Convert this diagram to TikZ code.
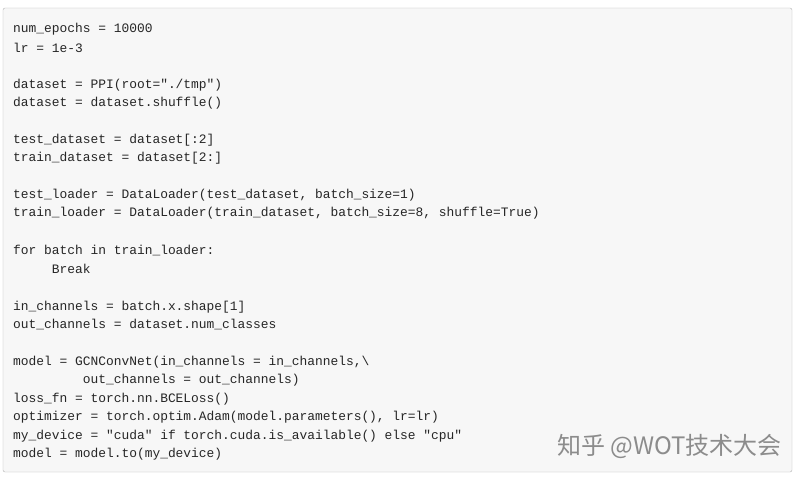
\documentclass[tikz,border=0pt]{standalone}
\usepackage{fontspec}
\setmonofont{Liberation Mono}
\newfontfamily\cjk{Noto Sans CJK SC}
\begin{document}
\begin{tikzpicture}[x=1pt,y=-1pt,
  codeline/.style={anchor=west,inner sep=0pt,font=\ttfamily\fontsize{12.9}{14}\selectfont,text=black!85}]
\useasboundingbox (0,0) rectangle (799,479);
\draw[fill=black!3,draw=black!30,rounded corners=2pt] (3,8) rectangle (792,472);
\begin{scope}[yshift=-2pt]
\node[codeline] (l1) at (13,27) {num\_epochs = 10000};
\node[codeline] (l2) at (13,46) {lr = 1e-3};
\node[codeline] (l3) at (13,83) {dataset = PPI(root="./tmp")};
\node[codeline] (l4) at (13,101) {dataset = dataset.shuffle()};
\node[codeline] (l5) at (13,138) {test\_dataset = dataset[:2]};
\node[codeline] (l6) at (13,156) {train\_dataset = dataset[2:]};
\node[codeline] (l7) at (13,193) {test\_loader = DataLoader(test\_dataset, batch\_size=1)};
\node[codeline] (l8) at (13,211) {train\_loader = DataLoader(train\_dataset, batch\_size=8, shuffle=True)};
\node[codeline] (l9) at (13,249) {for batch in train\_loader:};
\node[codeline] (l10) at (13,267) {\ \ \ \ \ Break};
\node[codeline] (l11) at (13,305) {in\_channels = batch.x.shape[1]};
\node[codeline] (l12) at (13,323) {out\_channels = dataset.num\_classes};
\node[codeline] (l13) at (13,360) {model = GCNConvNet(in\_channels = in\_channels,\textbackslash};
\node[codeline] (l14) at (13,378) {\ \ \ \ \ \ \ \ \ out\_channels = out\_channels)};
\node[codeline] (l15) at (13,397) {loss\_fn = torch.nn.BCELoss()};
\node[codeline] (l16) at (13,415) {optimizer = torch.optim.Adam(model.parameters(), lr=lr)};
\node[codeline] (l17) at (13,434) {my\_device = "cuda" if torch.cuda.is\_available() else "cpu"};
\node[codeline] (l18) at (13,452) {model = model.to(my\_device)};
\end{scope}
\node[anchor=west,inner sep=0pt,text=black!45,font=\cjk\fontsize{24}{26}\selectfont] (wm) at (557,446) {知乎 @WOT技术大会};
\end{tikzpicture}
\end{document}
